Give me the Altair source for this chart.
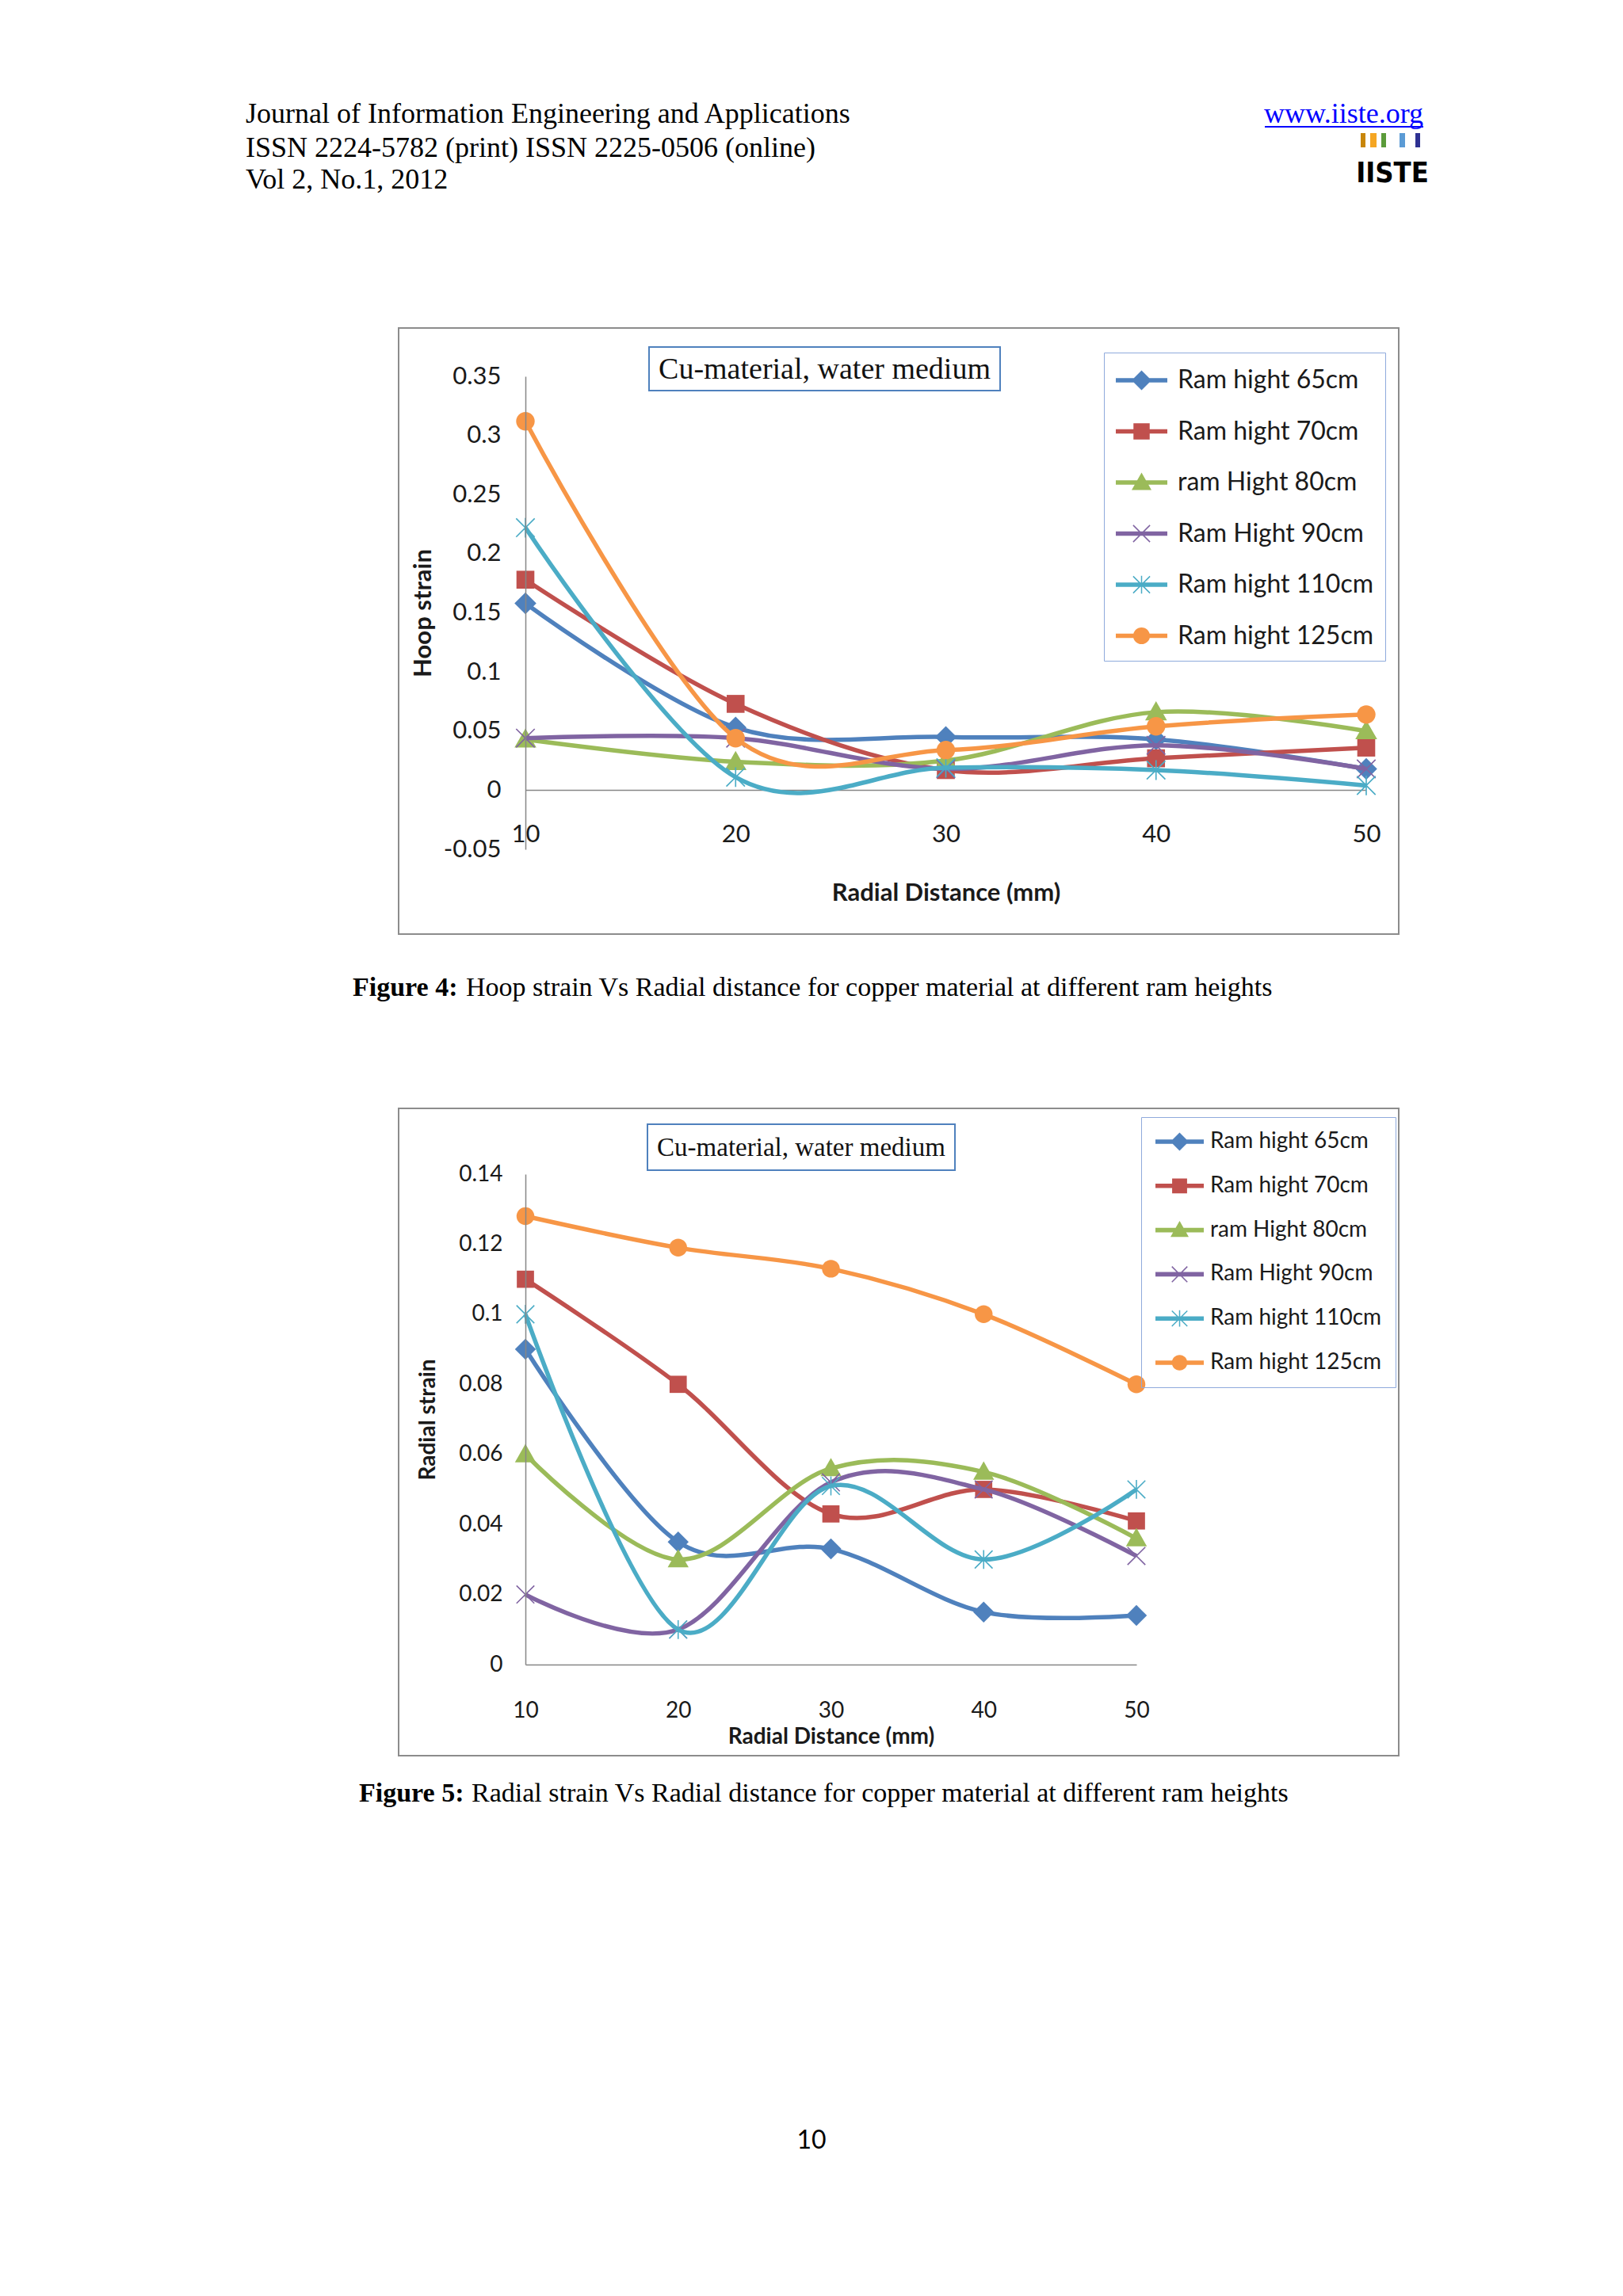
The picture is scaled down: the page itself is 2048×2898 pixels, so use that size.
import math
import altair as alt
import pandas as pd

# ---------------- data ----------------
x_vals = [10, 20, 30, 40, 50]
series = ["Ram hight 65cm", "Ram hight 70cm", "ram Hight 80cm",
          "Ram Hight 90cm", "Ram hight 110cm", "Ram hight 125cm"]
colors = ["#4F81BD", "#C0504D", "#9BBB59", "#8064A2", "#4BACC6", "#F79646"]

hoop_65 = [0.158, 0.053, 0.045, 0.043, 0.018]
hoop_70 = [0.178, 0.073, 0.017, 0.027, 0.036]
hoop_80 = [0.043, 0.024, 0.025, 0.066, 0.050]
hoop_90 = [0.044, 0.044, 0.018, 0.038, 0.018]
hoop_110 = [0.222, 0.011, 0.019, 0.017, 0.004]
hoop_125 = [0.312, 0.044, 0.034, 0.054, 0.064]

radial_65 = [0.090, 0.035, 0.033, 0.015, 0.014]
radial_70 = [0.110, 0.080, 0.043, 0.050, 0.041]
radial_80 = [0.060, 0.030, 0.056, 0.055, 0.036]
radial_90 = [0.020, 0.010, 0.052, 0.050, 0.031]
radial_110 = [0.100, 0.010, 0.051, 0.030, 0.050]
radial_125 = [0.128, 0.119, 0.113, 0.100, 0.080]

hoop_ticks = [-0.05, 0, 0.05, 0.1, 0.15, 0.2, 0.25, 0.3, 0.35]
radial_ticks = [0, 0.02, 0.04, 0.06, 0.08, 0.1, 0.12, 0.14]

header_lines = ["Journal of Information Engineering and Applications",
                "ISSN 2224-5782 (print) ISSN 2225-0506 (online)",
                "Vol 2, No.1, 2012"]
header_url = "www.iiste.org"
logo_text = "IISTE"
chart_title = "Cu-material, water medium"
x_title = "Radial Distance (mm)"
y_titles = ["Hoop strain", "Radial strain"]
caption_bold = ["Figure 4:", "Figure 5:"]
caption_text = ["Hoop strain Vs Radial distance for copper material at different ram heights",
                "Radial strain Vs Radial distance for copper material at different ram heights"]
page_number = "10"

# ---------------- styles ----------------
SERIF = "Liberation Serif"
SANS = "Lato"
GRAY = "#868686"
TXT = "#1a1a1a"
BOXBLUE = "#4F81BD"
LEGBORDER = "#8FAADC"
FRAME = "#8C8C8C"


def long_df(vals):
    rows = []
    for s, ys in zip(series, vals):
        for x, y in zip(x_vals, ys):
            rows.append({"x": x, "y": y, "series": s})
    return pd.DataFrame(rows)


def _pt(x, y):
    return f"{x:.3f},{y:.3f}"


def poly(pts):
    return "M" + "L".join(_pt(*p) for p in pts) + "Z"


def bar(angle, half_len, half_thick):
    a = math.radians(angle)
    c, s = math.cos(a), math.sin(a)
    pts = [(-half_len, -half_thick), (half_len, -half_thick),
           (half_len, half_thick), (-half_len, half_thick)]
    return poly([(x * c - y * s, x * s + y * c) for x, y in pts])


def circle(r):
    return f"M{-r:.3f},0A{r:.3f},{r:.3f} 0 1,1 {r:.3f},0A{r:.3f},{r:.3f} 0 1,1 {-r:.3f},0Z"


def marker(kind, r, t):
    if kind == "diamond":
        return poly([(0, -r), (r, 0), (0, r), (-r, 0)])
    if kind == "square":
        s = r * 0.82
        return poly([(-s, -s), (s, -s), (s, s), (-s, s)])
    if kind == "triangle":
        return poly([(0, -r), (r, 0.75 * r), (-r, 0.75 * r)])
    if kind == "x":
        return bar(45, r * 1.2, t) + bar(-45, r * 1.2, t)
    if kind == "star":
        return bar(45, r * 1.2, t) + bar(-45, r * 1.2, t) + bar(90, r * 0.9, t)
    return circle(r * 0.85)


kinds = ["diamond", "square", "triangle", "x", "star", "circle"]
point_paths = [marker(k, 1.0, 0.06) for k in kinds]


def legend_paths(unit, half_line, thick, mark_r):
    # all sizes in pixels, converted to symbol units (unit = px per unit)
    return [bar(0, half_line / unit, thick / unit) + marker(k, mark_r / unit, 0.75 / unit)
            for k in kinds]


one = pd.DataFrame({"k": [0]})


def vrect(ox, oy, x1, x2, y1, y2, **kw):
    return alt.Chart(one).mark_rect(**kw).encode(
        x=alt.value(x1 - ox), x2=alt.value(x2 - ox),
        y=alt.value(y1 - oy), y2=alt.value(y2 - oy))


def vtext(ox, oy, x, y, text, **kw):
    return alt.Chart(one).mark_text(text=text, **kw).encode(
        x=alt.value(x - ox), y=alt.value(y - oy))


def figure(df, cfg):
    ox, oy, W, H = cfg["ox"], cfg["oy"], cfg["W"], cfg["H"]
    xs = alt.Scale(domain=[10, 50], nice=False, zero=False)
    ys = alt.Scale(domain=cfg["ydom"], nice=False, zero=False)
    cs = alt.Scale(domain=series, range=colors)
    xaxis = alt.Axis(values=x_vals, title=x_title, grid=False, ticks=False, tickSize=0,
                     domain=cfg["xdomain"], domainColor=GRAY, domainWidth=1.5,
                     labelFont=SANS, labelFontSize=cfg["lfs"], labelColor=TXT,
                     labelPadding=cfg["xlp"], labelBaseline="middle", labelFlush=False,
                     labelOverlap=False, titleFont=SANS, titleFontWeight="bold",
                     titleFontSize=cfg["tfs"], titleColor=TXT, titleX=W / 2,
                     titleY=cfg["xty"], titleAlign="center", titleBaseline="middle",
                     zindex=1)
    yaxis = alt.Axis(values=cfg["yticks"], title=cfg["ytitle"], grid=False, ticks=False,
                     tickSize=0, domain=True, domainColor=GRAY, domainWidth=1.5,
                     labelExpr="replace(format(datum.value, '~g'), '\u2212', '-')",
                     labelFont=SANS, labelFontSize=cfg["lfs"], labelColor=TXT,
                     labelPadding=cfg["ylp"], labelFlush=False, labelOverlap=False,
                     titleFont=SANS, titleFontWeight="bold", titleFontSize=cfg["tfs"],
                     titleColor=TXT, titleX=cfg["ytx"], titleY=H / 2, titleAngle=270,
                     titleAlign="center", titleBaseline="middle", zindex=1)
    X = alt.X("x:Q", scale=xs, axis=xaxis)
    Y = alt.Y("y:Q", scale=ys, axis=yaxis)
    base = alt.Chart(df)

    layers = []
    # page region (defines layout bounds), invisible
    layers.append(vrect(ox, oy, 8, 2040, cfg["top"], cfg["bottom"], fill="white", fillOpacity=0))
    # figure frame
    fx1, fx2, fy1, fy2 = cfg["frame"]
    layers.append(vrect(ox, oy, fx1, fx2, fy1, fy2, fillOpacity=0, stroke=FRAME, strokeWidth=2))
    # title box
    bx1, bx2, by1, by2 = cfg["tbox"]
    layers.append(vrect(ox, oy, bx1, bx2, by1, by2, fill="white", stroke=BOXBLUE, strokeWidth=2))
    layers.append(vtext(ox, oy, (bx1 + bx2) / 2, (by1 + by2) / 2 + 1, chart_title, font=SERIF,
                        fontSize=cfg["ttfs"], color="#111111", align="center", baseline="middle"))
    # caption
    cbx, crx, cy = cfg["cap"]
    layers.append(vtext(ox, oy, cbx, cy, caption_bold[cfg["i"]], font=SERIF, fontSize=34,
                        fontWeight="bold", color="black", align="left", baseline="middle"))
    layers.append(vtext(ox, oy, crx, cy, caption_text[cfg["i"]], font=SERIF, fontSize=34,
                        color="black", align="left", baseline="middle"))
    layers.extend(cfg.get("extra", []))

    if cfg["zero_rule"]:
        zdf = pd.DataFrame({"x0": [x_vals[0]], "x1": [x_vals[-1]], "y0": [0.0]})
        layers.append(alt.Chart(zdf).mark_rule(color=GRAY, strokeWidth=1.5).encode(
            x=alt.X("x0:Q", scale=xs, axis=xaxis), x2="x1:Q",
            y=alt.Y("y0:Q", scale=ys, axis=yaxis)))

    # one line + one marker layer per series, drawn in series order
    for s, col, path in zip(series, colors, point_paths):
        sub = base.transform_filter(alt.datum.series == s)
        layers.append(sub.mark_line(interpolate="cardinal", strokeWidth=5.5, color=col).encode(
            x=X, y=Y))
        layers.append(sub.mark_point(shape=path, filled=True, size=cfg["msize"], opacity=1,
                                     strokeWidth=0, color=col).encode(x=X, y=Y))

    # legend (symbols = line segment + marker)
    lx, ly = cfg["legxy"]
    s_px = cfg["lsym"]
    half_line = cfg["lline"] / 2
    shift = half_line - s_px / 2
    lpaths = legend_paths(s_px / 2, half_line, 2.8, cfg["lmark"])
    leg = alt.Legend(title=None, orient="none", legendX=lx - ox, legendY=ly - oy,
                     direction="vertical", labelFont=SANS, labelFontSize=cfg["legfs"],
                     labelColor=TXT, labelLimit=600, symbolSize=s_px * s_px,
                     symbolStrokeWidth=0, padding=cfg["legpad"], strokeColor=LEGBORDER,
                     rowPadding=cfg["legrow"], symbolOffset=shift,
                     labelOffset=half_line + cfg["leggap"] - s_px / 2, offset=0)
    layers.append(base.transform_filter("datum.x < 0").mark_point(
        filled=True, opacity=1, size=s_px * s_px).encode(
        x=X, y=Y,
        color=alt.Color("series:N", scale=cs, legend=leg),
        shape=alt.Shape("series:N", scale=alt.Scale(domain=series, range=lpaths), legend=leg)))

    return alt.layer(*layers).properties(width=W, height=H)


# ---------------- figure 4 (with page header) ----------------
O1 = (663, 475)
extra1 = []
for i, (line, yy) in enumerate(zip(header_lines, [144, 187, 227])):
    extra1.append(vtext(O1[0], O1[1], 310, yy, line, font=SERIF, fontSize=36,
                        color="black", align="left", baseline="middle"))
extra1.append(vtext(O1[0], O1[1], 1796, 144, header_url, font=SERIF, fontSize=36,
                    color="#0000FF", align="right", baseline="middle"))
extra1.append(alt.Chart(one).mark_rule(color="#0000FF", strokeWidth=2).encode(
    x=alt.value(1596 - O1[0]), x2=alt.value(1796 - O1[0]), y=alt.value(160 - O1[1])))
logo_bars = [(1717, 1723, "#C8860A"), (1729, 1737, "#F5A623"), (1743, 1749, "#5B9B3A"),
             (1766, 1773, "#5B9BD5"), (1786, 1792, "#2E3192")]
for bx1, bx2, col in logo_bars:
    extra1.append(vrect(O1[0], O1[1], bx1, bx2, 168, 186, fill=col))
extra1.append(vtext(O1[0], O1[1], 1757, 219, logo_text, font="DejaVu Sans Condensed",
                    fontSize=36, fontWeight="bold", color="black", align="center",
                    baseline="middle"))

cfg1 = dict(i=0, ox=O1[0], oy=O1[1], W=1724 - 663, H=1072 - 475, ydom=[-0.05, 0.35],
            yticks=hoop_ticks, ytitle=y_titles[0], xdomain=False, lfs=31, tfs=31,
            xlp=-19, xty=55, ylp=31, ytx=534 - 663, top=8, bottom=1320,
            frame=(503, 1765, 414, 1179), tbox=(819, 1262, 438, 493), ttfs=38,
            cap=(445, 588, 1247), zero_rule=True, msize=760,
            legxy=(1393, 445), legfs=32, lsym=40, lline=65, lmark=12.5, leggap=13,
            legpad=15, legrow=28.5, extra=extra1)
fig4 = figure(long_df([hoop_65, hoop_70, hoop_80, hoop_90, hoop_110, hoop_125]), cfg1)

# ---------------- figure 5 (with page number) ----------------
O2 = (663, 1482)
extra2 = [vtext(O2[0], O2[1], 1024, 2702, page_number, font=SANS, fontSize=32,
                color="black", align="center", baseline="middle")]
cfg2 = dict(i=1, ox=O2[0], oy=O2[1], W=1434 - 663, H=2101 - 1482, ydom=[0, 0.14],
            yticks=radial_ticks, ytitle=y_titles[1], xdomain=True, lfs=28, tfs=28,
            xlp=58, xty=91, ylp=29, ytx=540 - 663, top=1320, bottom=2890,
            frame=(503, 1765, 1399, 2216), tbox=(817, 1205, 1419, 1477), ttfs=33,
            cap=(453, 595, 2264), zero_rule=False, msize=700,
            legxy=(1440, 1410), legfs=28, lsym=26, lline=61, lmark=11.5, leggap=7,
            legpad=17, legrow=27.8, extra=extra2)
fig5 = figure(long_df([radial_65, radial_70, radial_80, radial_90, radial_110, radial_125]), cfg2)

chart = alt.vconcat(fig4, fig5, spacing=0).resolve_scale(
    x="independent", y="independent", color="independent", shape="independent"
).resolve_legend(color="independent", shape="independent").properties(
    padding=0, background="white").configure_view(strokeWidth=0)

chart.save("out.html", embed_options={"renderer": "svg", "actions": False})
